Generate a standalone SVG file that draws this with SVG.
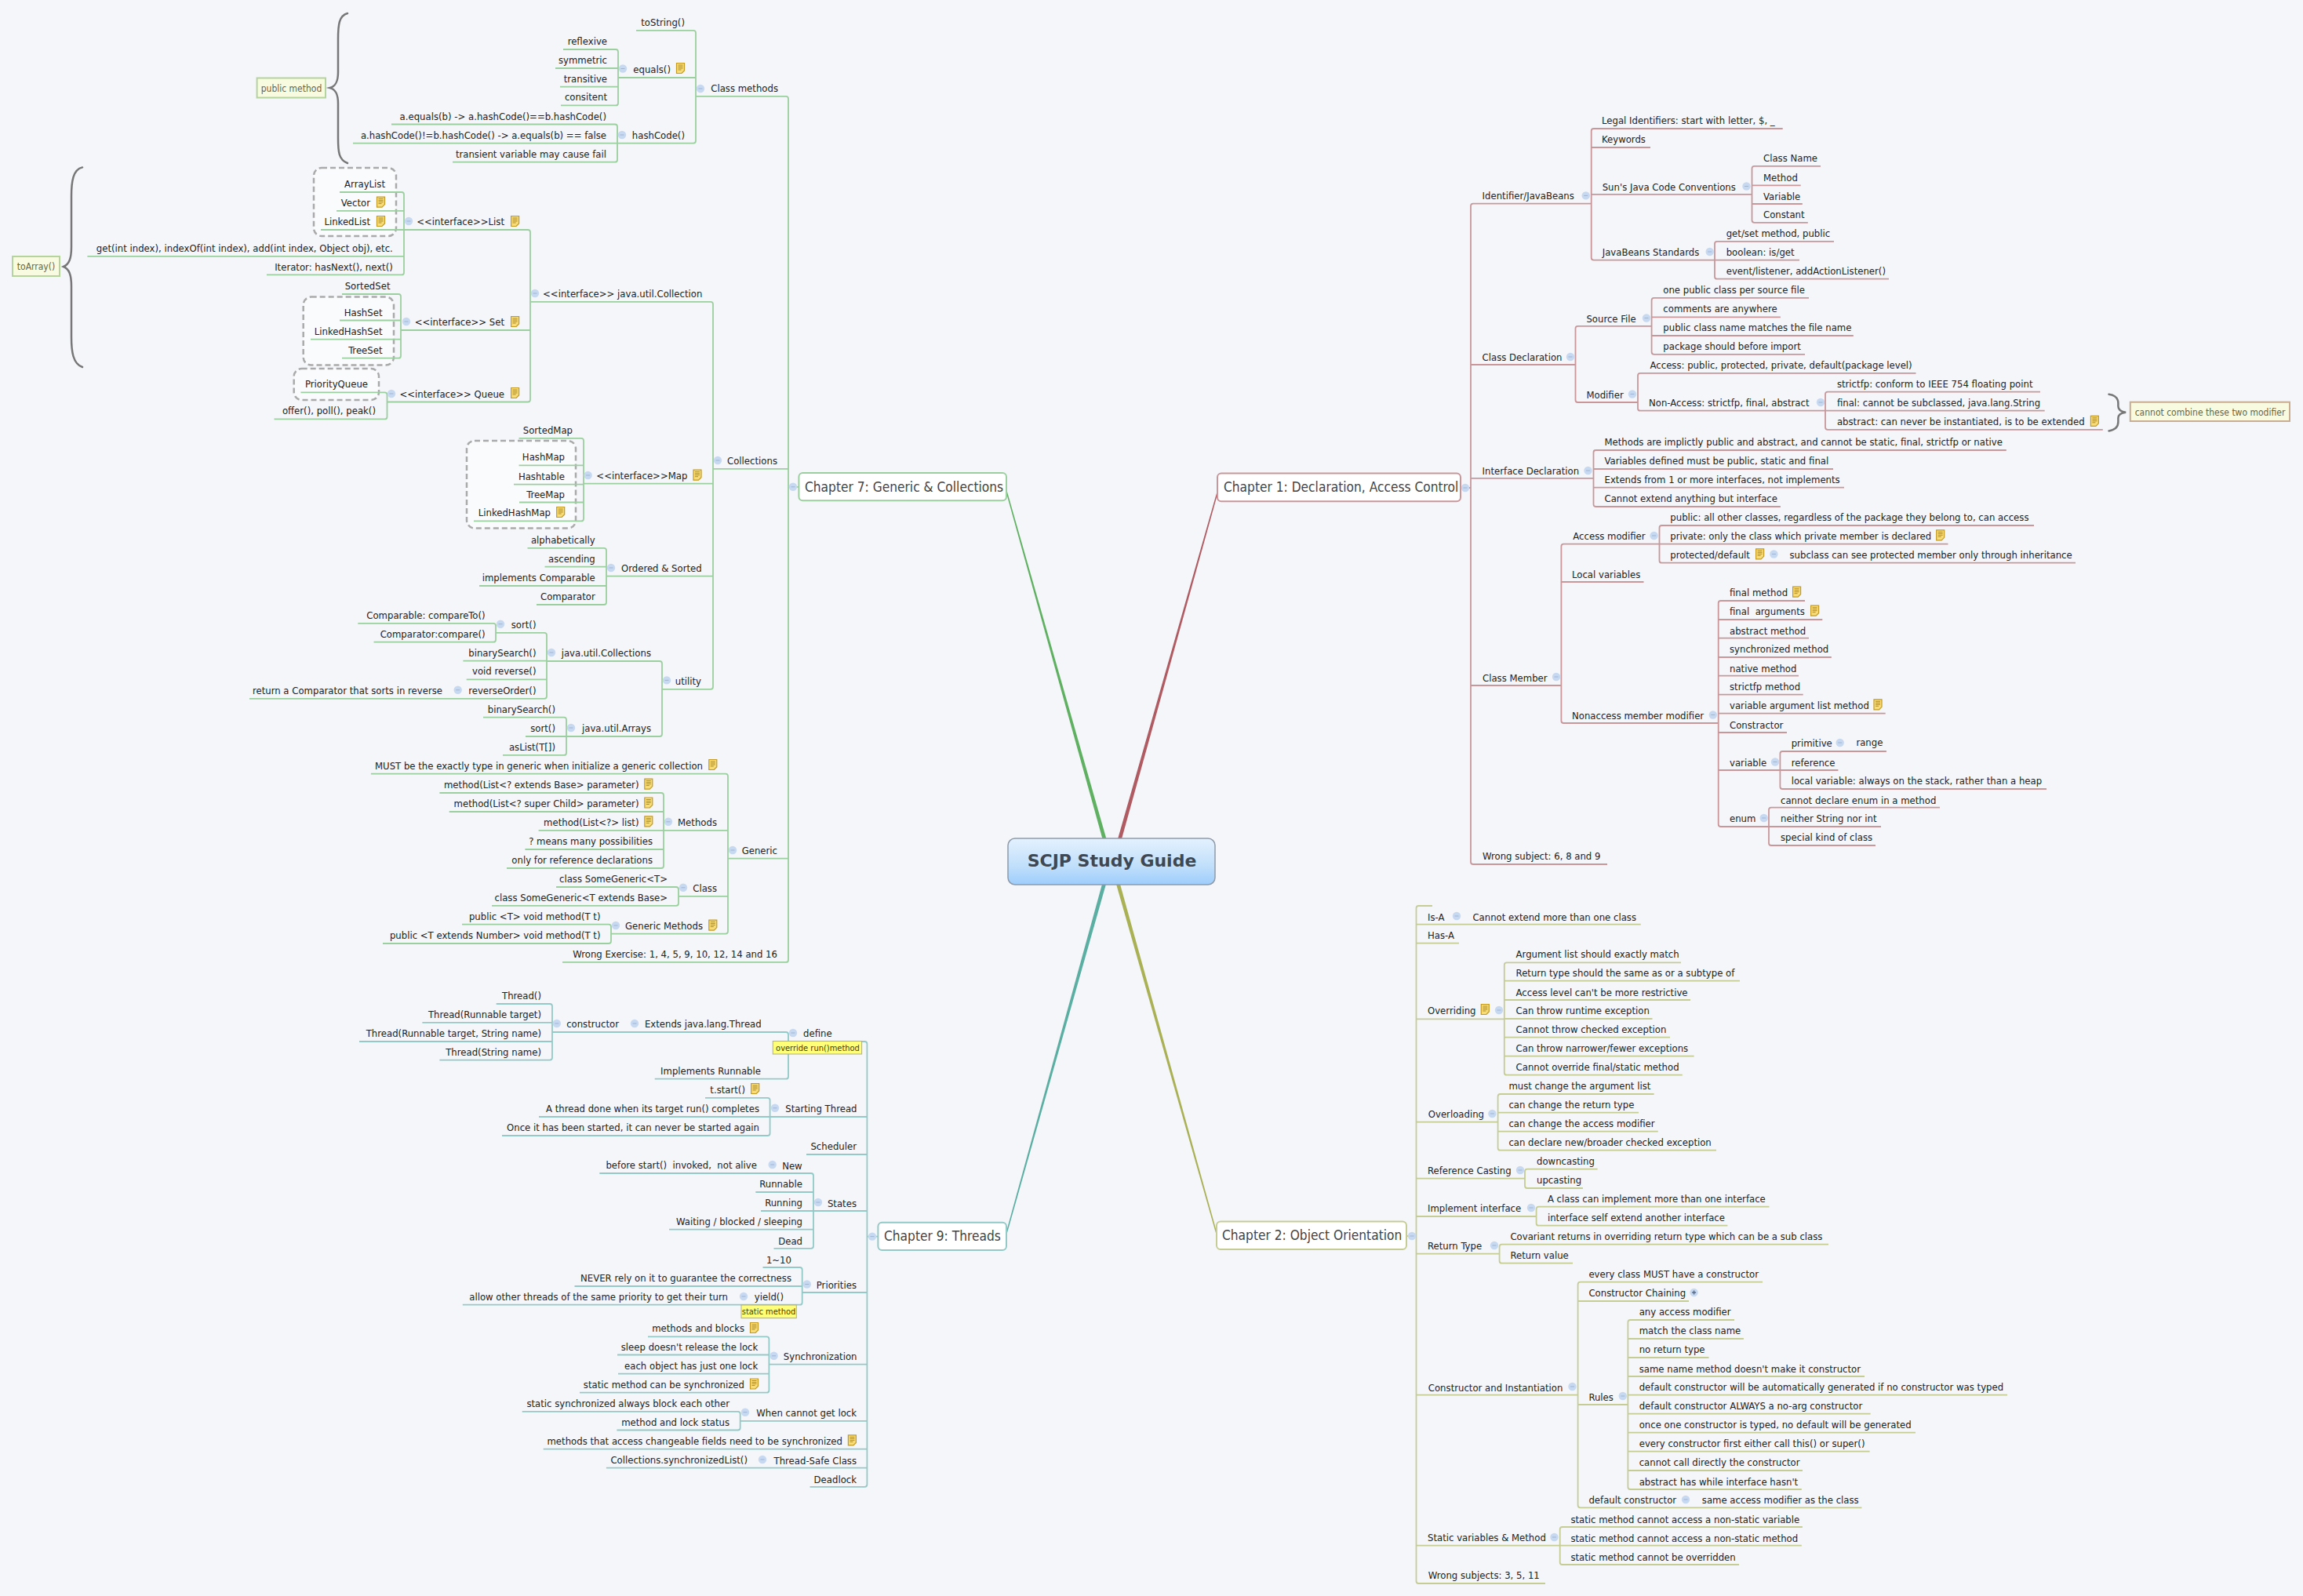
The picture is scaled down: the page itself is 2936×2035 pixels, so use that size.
<svg xmlns="http://www.w3.org/2000/svg" width="2936" height="2035" viewBox="0 0 2936 2035">
<style>
text{font-family:"DejaVu Sans Condensed","DejaVu Sans",sans-serif;font-size:13px;fill:#222}
.e{text-anchor:end}
.m{text-anchor:middle}
.ch{font-size:17.2px;fill:#444}
.root{font-family:"DejaVu Sans","Liberation Sans",sans-serif;font-size:22px;font-weight:bold;fill:#3e4852;text-anchor:middle}
.sm{font-size:12px;fill:#66664a;text-anchor:middle}
.y{font-size:11px;fill:#444400;text-anchor:middle}
.box{fill:#fff;stroke-width:2}
.cb{fill:#f9fbe0;stroke-width:2}
.nt{fill:#ffff77;stroke:#b0b080;stroke-width:1}
.dash{fill:#fafbfd;stroke:#aaa;stroke-width:2.5;stroke-dasharray:7 4}
.brace{fill:none;stroke:#777;stroke-width:2.5;stroke-linecap:round}
.c path{fill:none;stroke-width:1.8}
.g7 path{stroke:#9ccf9f}
.g1 path{stroke:#c9979a}
.g9 path{stroke:#93c9c6}
.g2 path{stroke:#c5cc94}
</style>
<defs>
<linearGradient id="rootg" x1="0" y1="0" x2="0" y2="1"><stop offset="0" stop-color="#e4f1fe"/><stop offset=".6" stop-color="#c0dffb"/><stop offset="1" stop-color="#9dcdfc"/></linearGradient>
<g id="d"><circle r="5.2" fill="#c7d9f1"/><path d="M-2.5 0H2.5" stroke="#9fb5d6" stroke-width="1"/></g>
<g id="dp"><circle r="5.2" fill="#c7d9f1"/><path d="M-2.5 0H2.5M0-2.5V2.5" stroke="#556a8a" stroke-width="1.4"/></g>
<g id="n"><path d="M-5-6.5H5V3L1.5 6.5H-5Z" fill="#f8dc78" stroke="#c39a22" stroke-width="1.2"/><path d="M-3-4H3M-3-2H3M-3 0H3M-3 2H1" stroke="#a07a10" stroke-width=".8"/></g>
</defs>
<rect width="2936" height="2035" fill="#f4f6fa"/>

<g id="main-branches">
<polygon points="1282.5,627 1284,627 1412,1075 1407,1075" fill="#5fb060"/>
<polygon points="1551.5,627 1553,627 1428.5,1075 1423.5,1075" fill="#b05b62"/>
<polygon points="1406.5,1122 1411.5,1122 1284,1572 1282.5,1572" fill="#5aaea2"/>
<polygon points="1421.5,1122 1426.5,1122 1552,1574 1550.5,1574" fill="#aab054"/>
</g>

<g id="boundaries">
<rect class="dash" x="400" y="214" width="105" height="87" rx="10"/>
<rect class="dash" x="386.7" y="378.6" width="115.3" height="87" rx="10"/>
<rect class="dash" x="374.7" y="470" width="108.3" height="40" rx="10"/>
<rect class="dash" x="595" y="562" width="139" height="111.6" rx="10"/>
</g>

<g id="connectors" class="c">
<g class="g7">
<path d="M887 122.8H1002q3 0 3 3V1223.9q0 3-3 3H717"/>
<path d="M909 597.9H1005M1005 620.8H1018"/>
<path d="M811 38.8H884q3 0 3 3V179.6q0 3-3 3H787M788 99H887"/>
<path d="M718 63H785q3 0 3 3V131.4q0 3-3 3H715M708 87H788M714 110.7H788"/>
<path d="M499 158.5H784q3 0 3 3V203.7q0 3-3 3H577M450 182.6H787"/>
<path d="M676 384.8H906q3 0 3 3V875.8q0 3-3 3H844M744 616.7H909M773 734.7H909"/>
<path d="M515 293H673q3 0 3 3V509.5q0 3-3 3H493.5M511 421H676"/>
<path d="M433 245H512q3 0 3 3V347.4q0 3-3 3H340M429 268.8H515M409 293H515M111.4 326.8H515"/>
<path d="M436 375H508q3 0 3 3V453.7q0 3-3 3H436M433 408.5H511M396 432.6H511"/>
<path d="M383.4 500.4H490.5q3 0 3 3V531.4q0 3-3 3H349.5"/>
<path d="M661.5 558.8H741q3 0 3 3V661.4q0 3-3 3H604M661.5 593.3H744M655 617.6H744M662 640.5H744"/>
<path d="M672.5 698.9H770q3 0 3 3V768q0 3-3 3H684M694.5 722.7H773M611 747H773"/>
<path d="M697 843H841q3 0 3 3V936q0 3-3 3H722"/>
<path d="M632 806.8H694q3 0 3 3V887.8q0 3-3 3H318M590.4 842.6H697M594.7 866.4H697"/>
<path d="M456.3 794.8H629q3 0 3 3V815.7q0 3-3 3H476.5"/>
<path d="M616 914.7H719q3 0 3 3V959.9q0 3-3 3H641M670 939H722"/>
<path d="M472.9 986.7H925q3 0 3 3V1187.6q0 3-3 3H779M846 1058.8H928M865 1142.8H928M928 1094.6H1005"/>
<path d="M560.4 1011H843q3 0 3 3V1104q0 3-3 3H646M572.7 1035H846M686.6 1058.8H846M669.4 1083H846"/>
<path d="M709 1131H862q3 0 3 3V1151.8q0 3-3 3H627"/>
<path d="M589 1178.7H776q3 0 3 3V1200q0 3-3 3H488"/>
</g>
<g class="g9">
<path d="M1005 1328H1102.4q3 0 3 3V1892.8q0 3-3 3H1032.5"/>
<path d="M981.6 1424H1105.4M1028 1472H1105.4M1037 1544H1105.4M1022.7 1648H1105.4M980 1739.6H1105.4M943.7 1811.9H1105.4M692.7 1847.6H1105.4M772.9 1871.7H1105.4M1105.4 1576.6H1119"/>
<path d="M704 1316H1002q3 0 3 3V1372.7q0 3-3 3H834.7"/>
<path d="M632.7 1280H701q3 0 3 3V1348.6q0 3-3 3H560.4M538.4 1303.8H704M458 1328H704"/>
<path d="M899 1399.8H978.6q3 0 3 3V1445q0 3-3 3H640M687 1424H981.6"/>
<path d="M764.3 1496H1034q3 0 3 3V1588.8q0 3-3 3H986.5M963.3 1520H1037M970 1544H1037M853 1567.7H1037"/>
<path d="M972.5 1616H1019.7q3 0 3 3V1660.7q0 3-3 3H589.8M732.5 1640H1022.7"/>
<path d="M826 1704.3H977.4q3 0 3 3V1772.7q0 3-3 3H739M787 1727.5H980.4M788 1751.6H980.4"/>
<path d="M665.7 1799.8H940.7q3 0 3 3V1820.5q0 3-3 3H786.4"/>
</g>
<g class="g1">
<path d="M2028.7 259.7H1878q-3 0-3 3V1099q0 3 3 3H2049"/>
<path d="M1875 465H2008.5M1875 609.9H2031.5M1875 874H1990.4M1862 622H1875"/>
<path d="M2272.7 164H2031.7q-3 0-3 3V328.6q0 3 3 3H2186M2028.7 188H2104M2028.7 247.8H2233.5"/>
<path d="M2321 211.8H2236.5q-3 0-3 3V280.8q0 3 3 3H2304.8M2233.5 236.3H2295.7M2233.5 260H2297.8"/>
<path d="M2338 307.9H2189q-3 0-3 3V352.7q0 3 3 3H2408M2186 331.6H2294"/>
<path d="M2105.6 415.8H2011.5q-3 0-3 3V510q0 3 3 3H2088"/>
<path d="M2306 379.9H2108.6q-3 0-3 3V448.8q0 3 3 3H2301M2105.6 404.3H2269.9M2105.6 428H2362.8"/>
<path d="M2442.5 475.9H2091q-3 0-3 3V520.7q0 3 3 3H2327"/>
<path d="M2601 499.6H2330q-3 0-3 3V544.8q0 3 3 3H2680.8M2327 523.7H2606.7"/>
<path d="M2557.8 574H2034.5q-3 0-3 3V643q0 3 3 3H2269.9M2031.5 598H2337M2031.5 621.7H2351"/>
<path d="M2115.5 693.7H1993.4q-3 0-3 3V919q0 3 3 3H2190.7M1990.4 742H2095.5"/>
<path d="M2593 670H2118.5q-3 0-3 3V714.7q0 3 3 3H2646M2115.5 693.7H2483.5"/>
<path d="M2301 766H2193.7q-3 0-3 3V1051q0 3 3 3H2255M2190.7 790H2323.3M2190.7 813.7H2306M2190.7 838H2334.8M2190.7 861.7H2293M2190.7 885.7H2298.7M2190.7 909.7H2403.7M2190.7 934H2278M2190.7 982H2269.4"/>
<path d="M2404.9 958H2272.4q-3 0-3 3V1003q0 3 3 3H2609M2269.4 982H2343.4"/>
<path d="M2473 1029.7H2258q-3 0-3 3V1075q0 3 3 3H2391M2255 1054H2398"/>
</g>
<g class="g2">
<path d="M1826 1155H1808.5q-3 0-3 3V2016q0 3 3 3H1970"/>
<path d="M1805.5 1178.7H2091.7M1805.5 1202.7H1860M1805.5 1299.3H1917.8M1805.5 1430.7H1909.6M1805.5 1502.7H1944M1805.5 1551H1958.6M1805.5 1598.7H1911.6M1805.5 1778.7H2011.6M1805.5 1970.7H1988.7M1793 1576H1805.5"/>
<path d="M2143 1227.3H1920.8q-3 0-3 3V1367.7q0 3 3 3H2144.8M1917.8 1250.7H2218M1917.8 1275H2155M1917.8 1299H2106.5M1917.8 1322.7H2129M1917.8 1346.7H2159.6"/>
<path d="M2108.6 1395H1912.6q-3 0-3 3V1463.7q0 3 3 3H2188M1909.6 1418.7H2089M1909.6 1442.7H2113.7"/>
<path d="M2036.6 1490.7H1947q-3 0-3 3V1512q0 3 3 3H2018"/>
<path d="M2255.5 1538.7H1961.6q-3 0-3 3V1559.7q0 3 3 3H2202.4"/>
<path d="M2331 1586.7H1914.6q-3 0-3 3V1607.7q0 3 3 3H2005"/>
<path d="M2247 1634.7H2014.6q-3 0-3 3V1919.3q0 3 3 3H2373.4M2011.6 1659H2153M2011.6 1791H2075.4"/>
<path d="M2211 1683H2078.4q-3 0-3 3V1896q0 3 3 3H2296.8M2075.4 1707H2222.9M2075.4 1731H2178.5M2075.4 1755H2377M2075.4 1778.7H2559M2075.4 1802.7H2384.6M2075.4 1826.7H2442M2075.4 1850.7H2383.6M2075.4 1875H2298"/>
<path d="M2297.9 1947H1991.7q-3 0-3 3V1992q0 3 3 3H2217M1988.7 1970.7H2296.8"/>
</g>
</g>

<g id="root"><rect x="1285" y="1069" width="264" height="59" rx="9" fill="url(#rootg)" stroke="#8e9aa8" stroke-width="1.5"/><text class="root" x="1417.5" y="1105">SCJP Study Guide</text></g>
<g id="ch7"><rect class="box" x="1018.4" y="603" width="264.6" height="35.3" rx="5" stroke="#9ccf9f"/><text class="ch" x="1026" y="626.5">Chapter 7: Generic &amp; Collections</text><use href="#d" x="1011" y="620.8"/></g>
<g id="ch1"><rect class="box" x="1552" y="603.4" width="310" height="35.9" rx="5" stroke="#c9979a"/><text class="ch" x="1560" y="627">Chapter 1: Declaration, Access Control</text><use href="#d" x="1868" y="622"/></g>
<g id="ch9"><rect class="box" x="1119.4" y="1558.8" width="163.6" height="35.2" rx="5" stroke="#93c9c6"/><text class="ch" x="1127" y="1582">Chapter 9: Threads</text><use href="#d" x="1112" y="1576.6"/></g>
<g id="ch2"><rect class="box" x="1551" y="1557.6" width="242" height="35.4" rx="5" stroke="#c5cc94"/><text class="ch" x="1558" y="1581">Chapter 2: Object Orientation</text><use href="#d" x="1800" y="1576"/></g>

<g id="c7-left">
<g id="classmethods"><text class="e" x="992" y="117">Class methods</text><use href="#d" x="893" y="113"/></g>
<g id="tostring"><text class="e" x="873" y="33">toString()</text></g>
<g id="equals"><text class="e" x="855" y="93">equals()</text><use href="#n" x="867.5" y="87"/><use href="#d" x="794" y="87.5"/></g>
<g id="reflexive"><text class="e" x="774" y="57">reflexive</text></g>
<g id="symmetric"><text class="e" x="774" y="81">symmetric</text></g>
<g id="transitive"><text class="e" x="774" y="105">transitive</text></g>
<g id="consitent"><text class="e" x="774" y="128">consitent</text></g>
<g id="hashcode"><text class="e" x="873" y="177">hashCode()</text><use href="#d" x="793" y="172"/></g>
<g id="hc1"><text class="e" x="773" y="152.5">a.equals(b) -&gt; a.hashCode()==b.hashCode()</text></g>
<g id="hc2"><text class="e" x="773" y="177">a.hashCode()!=b.hashCode() -&gt; a.equals(b) == false</text></g>
<g id="hc3"><text class="e" x="773" y="201">transient variable may cause fail</text></g>
<g id="publicmethod"><rect class="cb" x="327.6" y="99.5" width="87.4" height="25" stroke="#b5d39c"/><text class="sm" x="371.5" y="116.5">public method</text><path class="brace" d="M443 17C432 20 431 32 431 50V92C431 104 428 110 420.5 112C428 114 431 120 431 132V176C431 194 432 204 443 208"/></g>
<g id="toarray"><rect class="cb" x="16" y="327" width="60" height="25" stroke="#b5d39c"/><text class="sm" x="46" y="344">toArray()</text><path class="brace" d="M105 213.4C93 216 91 232 91 250V315C91 330 88 337 81 340C88 343 91 350 91 365V430C91 448 93 464 105 468"/></g>
<g id="collection"><text class="e" x="895.4" y="379">&lt;&lt;interface&gt;&gt; java.util.Collection</text><use href="#d" x="682" y="374"/></g>
<g id="list"><text class="e" x="643" y="287">&lt;&lt;interface&gt;&gt;List</text><use href="#n" x="656.6" y="282"/><use href="#d" x="521" y="282"/></g>
<g id="arraylist"><text class="e" x="491" y="239">ArrayList</text></g>
<g id="vector"><text class="e" x="472" y="263">Vector</text><use href="#n" x="485.5" y="257.6"/></g>
<g id="linkedlist"><text class="e" x="472" y="287">LinkedList</text><use href="#n" x="485.5" y="282"/></g>
<g id="getint"><text class="e" x="500.8" y="321">get(int index), indexOf(int index), add(int index, Object obj), etc.</text></g>
<g id="iterator"><text class="e" x="500.8" y="344.5">Iterator: hasNext(), next()</text></g>
<g id="set"><text class="e" x="643" y="415">&lt;&lt;interface&gt;&gt; Set</text><use href="#n" x="656.6" y="410"/><use href="#d" x="518" y="410"/></g>
<g id="sortedset"><text class="e" x="497.5" y="369">SortedSet</text></g>
<g id="hashset"><text class="e" x="487.5" y="402.5">HashSet</text></g>
<g id="linkedhashset"><text class="e" x="487.5" y="426.6">LinkedHashSet</text></g>
<g id="treeset"><text class="e" x="487.5" y="450.7">TreeSet</text></g>
<g id="queue"><text class="e" x="643" y="506.5">&lt;&lt;interface&gt;&gt; Queue</text><use href="#n" x="656.6" y="501"/><use href="#d" x="499" y="502"/></g>
<g id="priorityqueue"><text class="e" x="469" y="494.4">PriorityQueue</text></g>
<g id="offer"><text class="e" x="479" y="528.4">offer(), poll(), peak()</text></g>
<g id="collections"><text class="e" x="991" y="592">Collections</text><use href="#d" x="915" y="587"/></g>
<g id="map"><text class="e" x="876.4" y="610.7">&lt;&lt;interface&gt;&gt;Map</text><use href="#n" x="889" y="605.7"/><use href="#d" x="749.6" y="606"/></g>
<g id="sortedmap"><text class="e" x="730" y="552.8">SortedMap</text></g>
<g id="hashmap"><text class="e" x="720" y="587.3">HashMap</text></g>
<g id="hashtable"><text class="e" x="720" y="611.6">Hashtable</text></g>
<g id="treemap"><text class="e" x="720" y="634.5">TreeMap</text></g>
<g id="linkedhashmap"><text class="e" x="702" y="658.4">LinkedHashMap</text><use href="#n" x="714.7" y="653"/></g>
<g id="ordered"><text class="e" x="894.7" y="728.7">Ordered &amp; Sorted</text><use href="#d" x="779" y="724"/></g>
<g id="alpha"><text class="e" x="758.8" y="692.9">alphabetically</text></g>
<g id="ascending"><text class="e" x="758.8" y="716.7">ascending</text></g>
<g id="implcomp"><text class="e" x="758.8" y="741">implements Comparable</text></g>
<g id="comparator"><text class="e" x="758.8" y="765">Comparator</text></g>
<g id="utility"><text class="e" x="894" y="872.8">utility</text><use href="#d" x="850" y="867.4"/></g>
<g id="jucollections"><text class="e" x="830" y="837">java.util.Collections</text><use href="#d" x="703" y="832"/></g>
<g id="sort1"><text class="e" x="683.5" y="800.8">sort()</text><use href="#d" x="638" y="795.7"/></g>
<g id="compareto"><text class="e" x="618.6" y="788.8">Comparable: compareTo()</text></g>
<g id="compare"><text class="e" x="618.6" y="812.7">Comparator:compare()</text></g>
<g id="binary1"><text class="e" x="683.5" y="836.6">binarySearch()</text></g>
<g id="voidreverse"><text class="e" x="683.5" y="860.4">void reverse()</text></g>
<g id="reverseorder"><text class="e" x="683.5" y="884.8">reverseOrder()</text><use href="#d" x="583.7" y="879.8"/></g>
<g id="returncomp"><text class="e" x="564" y="884.8">return a Comparator that sorts in reverse</text></g>
<g id="juarrays"><text class="e" x="830" y="933">java.util.Arrays</text><use href="#d" x="728" y="928"/></g>
<g id="binary2"><text class="e" x="708" y="908.7">binarySearch()</text></g>
<g id="sort2"><text class="e" x="708" y="933">sort()</text></g>
<g id="aslist"><text class="e" x="708" y="956.9">asList(T[])</text></g>
<g id="generic"><text class="e" x="991" y="1088.6">Generic</text><use href="#d" x="934" y="1084"/></g>
<g id="must"><text class="e" x="896" y="980.7">MUST be the exactly type in generic when initialize a generic collection</text><use href="#n" x="908.8" y="975"/></g>
<g id="methods"><text class="e" x="914" y="1052.8">Methods</text><use href="#d" x="852" y="1047.8"/></g>
<g id="m1"><text class="e" x="814.5" y="1005">method(List&lt;? extends Base&gt; parameter)</text><use href="#n" x="826.8" y="999.6"/></g>
<g id="m2"><text class="e" x="814.5" y="1029">method(List&lt;? super Child&gt; parameter)</text><use href="#n" x="826.8" y="1023.5"/></g>
<g id="m3"><text class="e" x="814.5" y="1052.8">method(List&lt;?&gt; list)</text><use href="#n" x="826.8" y="1047.4"/></g>
<g id="m4"><text class="e" x="832" y="1077">? means many possibilities</text></g>
<g id="m5"><text class="e" x="832" y="1101">only for reference declarations</text></g>
<g id="class"><text class="e" x="914" y="1136.8">Class</text><use href="#d" x="871" y="1131.8"/></g>
<g id="sg1"><text class="e" x="851" y="1125">class SomeGeneric&lt;T&gt;</text></g>
<g id="sg2"><text class="e" x="851" y="1148.8">class SomeGeneric&lt;T extends Base&gt;</text></g>
<g id="genericmethods"><text class="e" x="896" y="1184.6">Generic Methods</text><use href="#n" x="908.8" y="1179.6"/><use href="#d" x="785" y="1180"/></g>
<g id="gm1"><text class="e" x="765.5" y="1172.7">public &lt;T&gt; void method(T t)</text></g>
<g id="gm2"><text class="e" x="765.5" y="1197">public &lt;T extends Number&gt; void method(T t)</text></g>
<g id="wrongex"><text class="e" x="991" y="1220.9">Wrong Exercise: 1, 4, 5, 9, 10, 12, 14 and 16</text></g>
</g>

<g id="c9-left">
<g id="define"><text x="1024" y="1322">define</text><use href="#d" x="1011" y="1317"/></g>
<g id="overridenote"><rect class="nt" x="985.3" y="1327.5" width="113.3" height="16.5"/><text class="y" x="1042.5" y="1339.5">override run()method</text></g>
<g id="extends"><text class="e" x="970.7" y="1310">Extends java.lang.Thread</text><use href="#d" x="809" y="1305"/></g>
<g id="constructor"><text class="e" x="789" y="1310">constructor</text><use href="#d" x="709.8" y="1305"/></g>
<g id="t1"><text class="e" x="690" y="1274">Thread()</text></g>
<g id="t2"><text class="e" x="690" y="1297.8">Thread(Runnable target)</text></g>
<g id="t3"><text class="e" x="690" y="1322">Thread(Runnable target, String name)</text></g>
<g id="t4"><text class="e" x="690" y="1345.6">Thread(String name)</text></g>
<g id="implrunnable"><text class="e" x="970" y="1369.7">Implements Runnable</text></g>
<g id="starting"><text class="e" x="1092.5" y="1418">Starting Thread</text><use href="#d" x="988" y="1412.8"/></g>
<g id="tstart"><text class="e" x="950" y="1393.8">t.start()</text><use href="#n" x="962.7" y="1388"/></g>
<g id="tdone"><text class="e" x="968" y="1418">A thread done when its target run() completes</text></g>
<g id="tonce"><text class="e" x="968" y="1442">Once it has been started, it can never be started again</text></g>
<g id="scheduler"><text class="e" x="1092" y="1466">Scheduler</text></g>
<g id="states"><text class="e" x="1092" y="1538.5">States</text><use href="#d" x="1043" y="1533"/></g>
<g id="new"><text class="e" x="1022.7" y="1490.5">New</text><use href="#d" x="984.7" y="1485"/></g>
<g id="beforestart"><text class="e" x="965" y="1490" xml:space="preserve">before start()  invoked,  not alive</text></g>
<g id="runnable"><text class="e" x="1023" y="1514">Runnable</text></g>
<g id="running"><text class="e" x="1023" y="1538">Running</text></g>
<g id="waiting"><text class="e" x="1023" y="1561.7">Waiting / blocked / sleeping</text></g>
<g id="dead"><text class="e" x="1023" y="1586.8">Dead</text></g>
<g id="priorities"><text class="e" x="1092" y="1642.5">Priorities</text><use href="#d" x="1028.8" y="1637.5"/></g>
<g id="p110"><text class="e" x="1009" y="1610.5">1~10</text></g>
<g id="never"><text class="e" x="1009" y="1634">NEVER rely on it to guarantee the correctness</text></g>
<g id="yield"><text class="e" x="999" y="1658">yield()</text><use href="#d" x="948" y="1653"/></g>
<g id="allow"><text class="e" x="928" y="1658">allow other threads of the same priority to get their turn</text></g>
<g id="staticnote"><rect class="nt" x="945" y="1664" width="70.3" height="16.6"/><text class="y" x="980" y="1676">static method</text></g>
<g id="sync"><text class="e" x="1092.5" y="1733.6">Synchronization</text><use href="#d" x="986.6" y="1728.8"/></g>
<g id="sy1"><text class="e" x="949" y="1698.3">methods and blocks</text><use href="#n" x="961.5" y="1693"/></g>
<g id="sy2"><text class="e" x="966.3" y="1721.5">sleep doesn't release the lock</text></g>
<g id="sy3"><text class="e" x="966.3" y="1745.6">each object has just one lock</text></g>
<g id="sy4"><text class="e" x="949" y="1769.7">static method can be synchronized</text><use href="#n" x="961.5" y="1764.5"/></g>
<g id="whencannot"><text class="e" x="1092" y="1805.9">When cannot get lock</text><use href="#d" x="950" y="1800.7"/></g>
<g id="wc1"><text class="e" x="930" y="1793.8">static synchronized always block each other</text></g>
<g id="wc2"><text class="e" x="930" y="1818">method and lock status</text></g>
<g id="changeable"><text class="e" x="1074" y="1841.6">methods that access changeable fields need to be synchronized</text><use href="#n" x="1086.4" y="1836.4"/></g>
<g id="threadsafe"><text class="e" x="1092" y="1866.5">Thread-Safe Class</text><use href="#d" x="972" y="1861"/></g>
<g id="synclist"><text class="e" x="953" y="1866">Collections.synchronizedList()</text></g>
<g id="deadlock"><text class="e" x="1092" y="1890.5">Deadlock</text></g>
</g>

<g id="c1-right">
<g id="identifier"><text x="1889.6" y="254">Identifier/JavaBeans</text><use href="#d" x="2021.7" y="249.4"/></g>
<g id="i1"><text x="2042" y="158">Legal Identifiers: start with letter, $, _</text></g>
<g id="i2"><text x="2042" y="182">Keywords</text></g>
<g id="sun"><text x="2042.7" y="242.5">Sun's Java Code Conventions</text><use href="#d" x="2226.5" y="237.5"/></g>
<g id="s1"><text x="2248" y="206">Class Name</text></g>
<g id="s2"><text x="2248" y="230.5">Method</text></g>
<g id="s3"><text x="2248" y="254.5">Variable</text></g>
<g id="s4"><text x="2248" y="278">Constant</text></g>
<g id="jb"><text x="2042.7" y="326">JavaBeans Standards</text><use href="#d" x="2179.7" y="321"/></g>
<g id="jb1"><text x="2200.7" y="302">get/set method, public</text></g>
<g id="jb2"><text x="2200.7" y="326">boolean: is/get</text></g>
<g id="jb3"><text x="2200.7" y="350">event/listener, addActionListener()</text></g>
<g id="classdecl"><text x="1889.6" y="459.5">Class Declaration</text><use href="#d" x="2002" y="455"/></g>
<g id="source"><text x="2022.4" y="410.5">Source File</text><use href="#d" x="2099" y="405.5"/></g>
<g id="sf1"><text x="2120.3" y="374">one public class per source file</text></g>
<g id="sf2"><text x="2120.3" y="398">comments are anywhere</text></g>
<g id="sf3"><text x="2120.3" y="422">public class name matches the file name</text></g>
<g id="sf4"><text x="2120.3" y="446">package should before import</text></g>
<g id="modifier"><text x="2022.4" y="507.5">Modifier</text><use href="#d" x="2081" y="502.5"/></g>
<g id="access"><text x="2103.5" y="470">Access: public, protected, private, default(package level)</text></g>
<g id="nonaccess"><text x="2102" y="518">Non-Access: strictfp, final, abstract</text><use href="#d" x="2321" y="513"/></g>
<g id="na1"><text x="2341.9" y="494">strictfp: conform to IEEE 754 floating point</text></g>
<g id="na2"><text x="2341.9" y="518">final: cannot be subclassed, java.lang.String</text></g>
<g id="na3"><text x="2341.9" y="541.8">abstract: can never be instantiated, is to be extended</text><use href="#n" x="2670.4" y="536.8"/></g>
<g id="combine"><rect class="cb" x="2715.8" y="512.7" width="203.2" height="24.3" stroke="#c8ad90"/><text class="sm" x="2817.5" y="529.5">cannot combine these two modifier</text><path class="brace" d="M2688.5 502.7C2697 504 2700.4 508 2700.4 514V518C2700.4 522 2704 525 2710.2 525.7C2704 526.5 2700.4 529 2700.4 533V538C2700.4 544 2697 548 2688.5 549.4"/></g>
<g id="ifacedecl"><text x="1889.6" y="604.5">Interface Declaration</text><use href="#d" x="2024.5" y="600"/></g>
<g id="if1"><text x="2045.5" y="568">Methods are implictly public and abstract, and cannot be static, final, strictfp or native</text></g>
<g id="if2"><text x="2045.5" y="592">Variables defined must be public, static and final</text></g>
<g id="if3"><text x="2045.5" y="616">Extends from 1 or more interfaces, not implements</text></g>
<g id="if4"><text x="2045.5" y="640">Cannot extend anything but interface</text></g>
<g id="classmember"><text x="1890" y="868.5">Class Member</text><use href="#d" x="1984" y="863"/></g>
<g id="accessmod"><text x="2005.3" y="688">Access modifier</text><use href="#d" x="2108.6" y="683"/></g>
<g id="am1"><text x="2129.3" y="664">public: all other classes, regardless of the package they belong to, can access</text></g>
<g id="am2"><text x="2129.3" y="688">private: only the class which private member is declared</text><use href="#n" x="2473.7" y="682.3"/></g>
<g id="am3"><text x="2129.3" y="711.7">protected/default</text><use href="#n" x="2243.6" y="706.3"/><use href="#d" x="2261.4" y="706.5"/></g>
<g id="am3a"><text x="2281.5" y="711.7">subclass can see protected member only through inheritance</text></g>
<g id="localvars"><text x="2004" y="736.5">Local variables</text></g>
<g id="nonaccessmem"><text x="2004" y="917">Nonaccess member modifier</text><use href="#d" x="2183.8" y="911.5"/></g>
<g id="nm1"><text x="2205" y="760">final method</text><use href="#n" x="2290.6" y="754.7"/></g>
<g id="nm2"><text x="2205" y="784" xml:space="preserve">final  arguments</text><use href="#n" x="2313.6" y="778.7"/></g>
<g id="nm3"><text x="2205" y="808.7">abstract method</text></g>
<g id="nm4"><text x="2205" y="832">synchronized method</text></g>
<g id="nm5"><text x="2205" y="856.7">native method</text></g>
<g id="nm6"><text x="2205" y="880">strictfp method</text></g>
<g id="nm7"><text x="2205" y="903.7">variable argument list method</text><use href="#n" x="2394" y="898.3"/></g>
<g id="nm8"><text x="2205" y="929">Constractor</text></g>
<g id="variable"><text x="2205" y="977">variable</text><use href="#d" x="2263" y="971.5"/></g>
<g id="primitive"><text x="2283.7" y="951.7">primitive</text><use href="#d" x="2345.7" y="947"/></g>
<g id="range"><text x="2366.4" y="951">range</text></g>
<g id="reference"><text x="2283.7" y="977">reference</text></g>
<g id="localvar"><text x="2283.7" y="1000">local variable: always on the stack, rather than a heap</text></g>
<g id="enum"><text x="2205" y="1048">enum</text><use href="#d" x="2248.7" y="1043"/></g>
<g id="en1"><text x="2270" y="1024.5">cannot declare enum in a method</text></g>
<g id="en2"><text x="2270" y="1048">neither String nor int</text></g>
<g id="en3"><text x="2270" y="1072">special kind of class</text></g>
<g id="wrongsubj"><text x="1890" y="1096">Wrong subject: 6, 8 and 9</text></g>
</g>

<g id="c2-right">
<g id="isa"><text x="1820" y="1173.5">Is-A</text><use href="#d" x="1857" y="1168"/></g>
<g id="isa1"><text x="1877.4" y="1173.5">Cannot extend more than one class</text></g>
<g id="hasa"><text x="1820" y="1197">Has-A</text></g>
<g id="overriding"><text x="1820" y="1293">Overriding</text><use href="#n" x="1893.3" y="1287"/><use href="#d" x="1911" y="1288"/></g>
<g id="o1"><text x="1932.6" y="1221">Argument list should exactly match</text></g>
<g id="o2"><text x="1932.6" y="1245">Return type should the same as or a subtype of</text></g>
<g id="o3"><text x="1932.6" y="1269.5">Access level can't be more restrictive</text></g>
<g id="o4"><text x="1932.6" y="1293">Can throw runtime exception</text></g>
<g id="o5"><text x="1932.6" y="1317">Cannot throw checked exception</text></g>
<g id="o6"><text x="1932.6" y="1341">Can throw narrower/fewer exceptions</text></g>
<g id="o7"><text x="1932.6" y="1365">Cannot override final/static method</text></g>
<g id="overloading"><text x="1820.8" y="1425">Overloading</text><use href="#d" x="1902.4" y="1420"/></g>
<g id="ol1"><text x="1923.4" y="1389">must change the argument list</text></g>
<g id="ol2"><text x="1923.4" y="1413">can change the return type</text></g>
<g id="ol3"><text x="1923.4" y="1437">can change the access modifier</text></g>
<g id="ol4"><text x="1923.4" y="1461">can declare new/broader checked exception</text></g>
<g id="refcast"><text x="1820" y="1497">Reference Casting</text><use href="#d" x="1938" y="1492"/></g>
<g id="rc1"><text x="1959" y="1485">downcasting</text></g>
<g id="rc2"><text x="1959" y="1509">upcasting</text></g>
<g id="impl"><text x="1820" y="1545">Implement interface</text><use href="#d" x="1952" y="1540"/></g>
<g id="im1"><text x="1972.9" y="1533">A class can implement more than one interface</text></g>
<g id="im2"><text x="1972.9" y="1557">interface self extend another interface</text></g>
<g id="rettype"><text x="1820" y="1593">Return Type</text><use href="#d" x="1905" y="1588"/></g>
<g id="rt1"><text x="1925.4" y="1581">Covariant returns in overriding return type which can be a sub class</text></g>
<g id="rt2"><text x="1925.4" y="1605">Return value</text></g>
<g id="ctor"><text x="1820.8" y="1774">Constructor and Instantiation</text><use href="#d" x="2004.5" y="1768"/></g>
<g id="ct1"><text x="2025.4" y="1629">every class MUST have a constructor</text></g>
<g id="ct2"><text x="2025.4" y="1653">Constructor Chaining</text><use href="#dp" x="2159.6" y="1648"/></g>
<g id="rules"><text x="2025.4" y="1785.5">Rules</text><use href="#d" x="2068.8" y="1780"/></g>
<g id="r1"><text x="2089.7" y="1677">any access modifier</text></g>
<g id="r2"><text x="2089.7" y="1701">match the class name</text></g>
<g id="r3"><text x="2089.7" y="1725">no return type</text></g>
<g id="r4"><text x="2089.7" y="1749.5">same name method doesn't make it constructor</text></g>
<g id="r5"><text x="2089.7" y="1773">default constructor will be automatically generated if no constructor was typed</text></g>
<g id="r6"><text x="2089.7" y="1797">default constructor ALWAYS a no-arg constructor</text></g>
<g id="r7"><text x="2089.7" y="1821">once one constructor is typed, no default will be generated</text></g>
<g id="r8"><text x="2089.7" y="1845">every constructor first either call this() or super()</text></g>
<g id="r9"><text x="2089.7" y="1869">cannot call directly the constructor</text></g>
<g id="r10"><text x="2089.7" y="1893.5">abstract has while interface hasn't</text></g>
<g id="defctor"><text x="2025.4" y="1917">default constructor</text><use href="#d" x="2149" y="1912"/></g>
<g id="defctor1"><text x="2169.8" y="1917">same access modifier as the class</text></g>
<g id="staticvars"><text x="1820" y="1965">Static variables &amp; Method</text><use href="#d" x="1981.5" y="1960"/></g>
<g id="sv1"><text x="2002.4" y="1941.5">static method cannot access a non-static variable</text></g>
<g id="sv2"><text x="2002.4" y="1965.5">static method cannot access a non-static method</text></g>
<g id="sv3"><text x="2002.4" y="1989.5">static method cannot be overridden</text></g>
<g id="wrongsubjs"><text x="1820.8" y="2013">Wrong subjects: 3, 5, 11</text></g>
</g>
</svg>
